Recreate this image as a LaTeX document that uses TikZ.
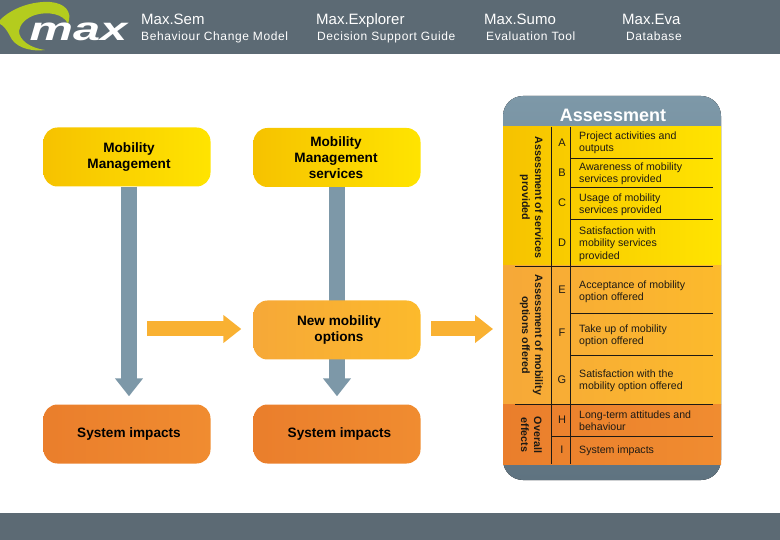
\documentclass[tikz,border=0pt]{standalone}
\usepackage{fontspec}
\setmainfont{Liberation Sans}
\newfontfamily\spaced[LetterSpace=5]{Liberation Sans}
\usetikzlibrary{arrows.meta,backgrounds}
\definecolor{bandgray}{HTML}{5C6A74}
\definecolor{steel}{HTML}{7D98A8}
\definecolor{steeldark}{HTML}{5F7380}
\definecolor{limegreen}{HTML}{B4CC1E}
\definecolor{inktext}{HTML}{1E1A14}
\definecolor{yellowa}{HTML}{F6C200}
\definecolor{yellowb}{HTML}{FFE400}
\definecolor{ambera}{HTML}{F6A838}
\definecolor{amberb}{HTML}{FCBA2C}
\definecolor{ambermid}{HTML}{F9B132}
\definecolor{rusta}{HTML}{EA7E2C}
\definecolor{rustb}{HTML}{F08C30}
\begin{document}
\begin{tikzpicture}[x=1pt,y=-1pt,
    flow box/.style={rounded corners=14pt,minimum width=167pt,minimum height=59pt,inner sep=0pt,align=center,font=\fontsize{13.6}{16}\selectfont\bfseries,text=black},
    yellow box/.style={flow box,left color=yellowa,right color=yellowb},
    amber box/.style={flow box,left color=ambera,right color=amberb},
    rust box/.style={flow box,left color=rusta,right color=rustb},
    down arrow/.style={steel,line width=16pt,-{Triangle[width=27pt,length=18pt]},shorten >=8pt},
    side arrow/.style={line width=15pt,-{Triangle[width=27pt,length=18pt]},color=ambermid},
    menu title/.style={anchor=base west,inner sep=0pt,font=\fontsize{15}{17}\selectfont,text=white},
    menu sub/.style={anchor=base west,inner sep=0pt,font=\spaced\fontsize{12}{14}\selectfont,text=white},
    row letter/.style={inner sep=0pt,text=inktext,font=\fontsize{11}{13}\selectfont},
    row text/.style={anchor=west,inner sep=0pt,align=left,text=inktext,font=\fontsize{10.6}{12.4}\selectfont},
    side text/.style={rotate=-90,inner sep=0pt,align=center,text=inktext,font=\fontsize{10.7}{13}\selectfont\bfseries},
    rule/.style={inktext,line width=0.9pt}]
    \useasboundingbox (0,0) rectangle (780,540);

    % bands
    \fill[bandgray] (0,0) rectangle (780,54);
    \fill[bandgray] (0,513) rectangle (780,540);

    % logo
    \fill[limegreen] (0,20) .. controls (12,8) and (32,1) .. (50,2) .. controls (64,3) and (73,11) .. (68,24)
        .. controls (64,14) and (48,11) .. (35,15) .. controls (26,18) and (20,24) .. (19,31)
        .. controls (19,40) and (30,48) .. (45,50) .. controls (28,52) and (14,46) .. (10,36)
        .. controls (7,30) and (3,25) .. (0,24) -- cycle;
    \node[inner sep=0pt,text=white,font=\fontsize{32.7}{32.7}\selectfont\bfseries\itshape,xscale=1.49,transform shape] (logo) at (78.5,31.5) {max};

    % menu
    \node[menu title] (sem) at (141,25) {Max.Sem};
    \node[menu title] (explorer) at (316,25) {Max.Explorer};
    \node[menu title] (sumo) at (484,25) {Max.Sumo};
    \node[menu title] (eva) at (622,25) {Max.Eva};
    \node[menu sub] (semsub) at (141,41) {Behaviour Change Model};
    \node[menu sub] (explorersub) at (317,41) {Decision Support Guide};
    \node[menu sub] (sumosub) at (486,41) {Evaluation Tool};
    \node[menu sub] (evasub) at (626,41) {Database};

    % flow boxes
    \node[yellow box] (mm) at (127,157) {\hspace*{4pt}Mobility\\\hspace*{4pt}Management};
    \node[yellow box] (services) at (337,157.5) {\hspace*{-2pt}Mobility\\\hspace*{-2pt}Management\\\hspace*{-2pt}services};
    \node[amber box] (options) at (337,330) {\hspace*{4pt}New mobility\\\hspace*{4pt}options};
    \node[rust box] (impactsa) at (127,434) {\hspace*{4pt}System impacts};
    \node[rust box] (impactsb) at (337,434) {\hspace*{5pt}System impacts};

    \coordinate (sidea) at (147,329);
    \coordinate (sideb) at (431,329);
    \coordinate (panel) at (493,329);

    \begin{scope}[on background layer]
        \draw[down arrow] ([xshift=2pt]mm.south) -- ([xshift=2pt]impactsa.north);
        \draw[down arrow] (services) -- (impactsb);
    \end{scope}
    \draw[side arrow,shorten >=12pt] (sidea) -- (sidea -| options.west);
    \draw[side arrow] (sideb) -- (panel);

    % assessment panel
    \fill[top color=steel,bottom color=steeldark,rounded corners=20pt] (503,96) rectangle (721,480);
    \fill[left color=yellowa,right color=yellowb] (503,127) rectangle (721,266);
    \fill[left color=ambera,right color=amberb] (503,266) rectangle (721,404);
    \fill[left color=rusta,right color=rustb] (503,404) rectangle (721,464);
    \node[inner sep=0pt,text=white,font=\fontsize{18}{20}\selectfont\bfseries] (title) at (613,115) {Assessment};

    \draw[rule] (551,127) -- (551,464);
    \draw[rule] (570,127) -- (570,464);
    \foreach \rowy in {158,187,219,313,355}
        \draw[rule] (570,\rowy) -- (713,\rowy);
    \draw[rule] (515,266) -- (713,266);
    \draw[rule] (515,404) -- (713,404);
    \draw[rule] (551,436) -- (713,436);

    \node[side text] (sidesvc) at (531.5,197.5) {Assessment of services\\provided};
    \node[side text] (sideopt) at (531.5,335) {Assessment of mobility\\options offered};
    \node[side text] (sideall) at (531.5,435) {Overall\\effects};

    \node[row letter] (A) at (562,143) {A};
    \node[row letter] (B) at (562,173) {B};
    \node[row letter] (C) at (562,203) {C};
    \node[row letter] (D) at (562,243) {D};
    \node[row letter] (E) at (562,290) {E};
    \node[row letter] (F) at (562,333) {F};
    \node[row letter] (G) at (562,380) {G};
    \node[row letter] (H) at (562,420) {H};
    \node[row letter] (I) at (562,450) {I};

    \node[row text] (texta) at (579,143) {Project activities and\\outputs};
    \node[row text] (textb) at (579,174) {Awareness of mobility\\services provided};
    \node[row text] (textc) at (579,204.5) {Usage of mobility\\services provided};
    \node[row text] (textd) at (579,244) {Satisfaction with\\mobility services\\provided};
    \node[row text] (texte) at (579,291.5) {Acceptance of mobility\\option offered};
    \node[row text] (textf) at (579,335.5) {Take up of mobility\\option offered};
    \node[row text] (textg) at (579,381) {Satisfaction with the\\mobility option offered};
    \node[row text] (texth) at (579,421) {Long-term attitudes and\\behaviour};
    \node[row text] (texti) at (579,451) {System impacts};
\end{tikzpicture}
\end{document}
